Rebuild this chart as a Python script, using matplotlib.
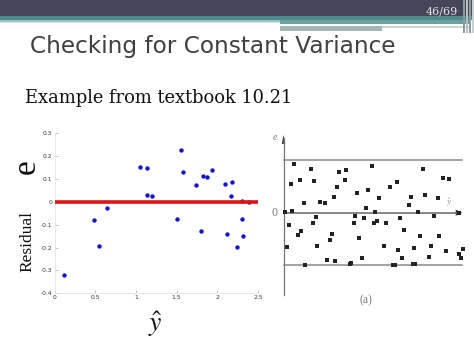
import matplotlib
matplotlib.use("Agg")
import matplotlib.pyplot as plt
from matplotlib.patches import Rectangle, Polygon

# Residuals vs fitted values (textbook example 10.21)
fitted = [0.12, 0.49, 0.55, 0.65, 1.05, 1.14, 1.14, 1.20, 1.50, 1.56, 1.58, 1.74,
          1.80, 1.82, 1.87, 1.93, 2.09, 2.12, 2.18, 2.17, 2.24, 2.30, 2.30, 2.32, 2.39]
residual = [-0.32, -0.08, -0.195, -0.026, 0.153, 0.15, 0.028, 0.024, -0.074, 0.229,
            0.13, 0.074, -0.128, 0.113, 0.11, 0.14, 0.08, -0.14, 0.088, 0.024,
            -0.197, -0.074, 0.003, -0.15, -0.002]
x_ticks = [0, 0.5, 1, 1.5, 2, 2.5]
x_tick_labels = ["0", "0.5", "1", "1.5", "2", "2.5"]
y_ticks = [-0.4, -0.3, -0.2, -0.1, 0, 0.1, 0.2, 0.3]
y_tick_labels = ["-0.4", "-0.3", "-0.2", "-0.1", "0", "0.1", "0.2", "0.3"]

# Idealised pattern (a): residuals scattered evenly inside a horizontal band
band_x = [0.61, 1.52, 4.94, 3.13, 3.52, 0.92, 0.42, 1.73, 3.45, 3.01, 4.13, 4.73,
          2.83, 1.13, 2.03, 2.31, 4.62, 0.08, 0.49, 1.82, 4.02, 4.51, 0.31, 1.64,
          3.93, 5.05, 1.00, 0.81, 2.70, 2.62, 4.23, 0.21, 1.89, 2.42, 2.90, 4.40,
          3.76, 3.71, 1.22, 7.83, 8.95, 9.25, 6.34, 5.95, 5.35, 7.14, 7.93, 8.64,
          7.05, 5.14, 7.55, 8.43, 9.83, 5.25, 5.74, 6.54, 6.73, 7.63, 8.73, 5.65,
          6.41, 7.31, 8.25, 9.12, 10.06, 9.85, 9.93, 6.64, 8.13, 6.15, 6.23, 7.24, 7.38]
band_e = [0.93, 0.83, 0.89, 0.77, 0.82, 0.62, 0.54, 0.60, 0.62, 0.48, 0.38, 0.44,
          0.30, 0.18, 0.20, 0.18, 0.09, 0.01, 0.03, -0.09, -0.07, -0.10, -0.24, -0.19,
          -0.19, -0.20, -0.34, -0.43, -0.41, -0.51, -0.49, -0.65, -0.63, -0.89, -0.92, -0.87,
          -0.95, -0.97, -0.99, 0.83, 0.66, 0.64, 0.58, 0.48, 0.28, 0.29, 0.33, 0.28,
          0.15, 0.01, 0.01, -0.07, -0.01, -0.16, -0.20, -0.10, -0.32, -0.45, -0.45, -0.63,
          -0.70, -0.68, -0.64, -0.72, -0.69, -0.79, -0.86, -0.87, -0.84, -0.99, -0.99, -0.97, -0.97]
band_limit = 1.0
band_xmax = 10.0

W, H = 474, 355
fig = plt.figure(figsize=(W / 100, H / 100), dpi=100)
fig.patch.set_facecolor("white")

# Full-figure overlay in pixel coordinates for the slide decoration and text
deco = fig.add_axes([0, 0, 1, 1])
deco.set_xlim(0, W)
deco.set_ylim(H, 0)
deco.axis("off")

# Header bar
deco.add_patch(Rectangle((0, 0), W, 15.7, color="#45465a", lw=0))
deco.add_patch(Rectangle((0, 15.7), W, 4.3, color="#4b8b8b", lw=0))
deco.add_patch(Rectangle((0, 20), 280, 1.6, color="#9fbebe", lw=0))
deco.add_patch(Rectangle((0, 21.6), 280, 1.6, color="#dde9e9", lw=0))
deco.add_patch(Rectangle((280, 20), 190, 4.2, color="#6d9f9f", lw=0))
deco.add_patch(Rectangle((280, 25.5), 102, 5.5, color="#a3b6b6", lw=0))
deco.add_patch(Rectangle((382, 25.5), 88, 2.5, color="#c9d6d6", lw=0))
for xs, c in [(463, "#8c9a9a"), (466, "#b5c0c0"), (469, "#8c9a9a"), (472, "#c8d0d0")]:
    deco.add_patch(Rectangle((xs, 0), 1.6, 33, color=c, lw=0))

renderer = fig.canvas.get_renderer()


def fitted_text(x, y, s, width, size, **kw):
    t = deco.text(x, y, s, fontsize=size, **kw)
    bb = t.get_window_extent(renderer=renderer)
    t.set_fontsize(size * width / bb.width)
    return t


fitted_text(426, 14, "46/69", 32, 9, family="DejaVu Serif", color="#e4e4e4",
            va="baseline", ha="left")
fitted_text(30, 52.7, "Checking for Constant Variance", 365, 20,
            family="DejaVu Sans", color="#404040", va="baseline", ha="left")
fitted_text(25, 103.3, "Example from textbook 10.21", 270, 14,
            family="DejaVu Serif", color="#111111", va="baseline", ha="left")

deco.text(26, 167, "e", fontsize=24, family="Liberation Serif", rotation=90,
          ha="center", va="center", color="#111111")
deco.text(27.5, 242, "Residual", fontsize=12.5, family="Liberation Serif", rotation=90,
          ha="center", va="center", color="#111111")
plt.rcParams["mathtext.fontset"] = "stix"
deco.text(155, 324, r"$\hat{y}$", fontsize=20, ha="center", va="center", color="#111111")

# Residual plot
ax = fig.add_axes([54.5 / W, (H - 293.3) / H, 203.5 / W, 160 / H])
ax.set_xlim(0, 2.5)
ax.set_ylim(-0.4, 0.3)
ax.patch.set_alpha(0)
for side in ("top", "right"):
    ax.spines[side].set_visible(False)
for side in ("left", "bottom"):
    ax.spines[side].set_color("#e2e2e2")
    ax.spines[side].set_linewidth(0.6)
ax.set_xticks(x_ticks)
ax.set_xticklabels(x_tick_labels)
ax.set_yticks(y_ticks)
ax.set_yticklabels(y_tick_labels)
ax.tick_params(direction="in", length=2, width=0.5, color="#aaaaaa",
               labelsize=4.3, labelcolor="#333333", pad=1.5)
ax.scatter(fitted, residual, s=10, color="#1212c8", zorder=3, linewidths=0)
ax.plot([0, 2.5], [0, 0], color="#dd1414", lw=2.6, zorder=4, solid_capstyle="butt")

# Band pattern panel
px0, py0 = 283.5, 212.7
sx, sy = 17.85, 52.6
left_px, right_px, top_px, bot_px = 262, 474, 128, 312
bx = fig.add_axes([left_px / W, (H - bot_px) / H, (right_px - left_px) / W, (bot_px - top_px) / H])
bx.set_xlim((left_px - px0) / sx, (right_px - px0) / sx)
bx.set_ylim(-(bot_px - py0) / sy, (py0 - top_px) / sy)
bx.axis("off")
bx.patch.set_alpha(0)

axis_top = (py0 - 135) / sy
axis_bot = -(295 - py0) / sy
bx.plot([0, 0], [axis_bot, axis_top - 0.05], color="#777777", lw=0.9)
bx.add_patch(Polygon([[-0.1, axis_top - 0.17], [0.1, axis_top - 0.17], [0, axis_top]],
                     closed=True, color="#444444", lw=0))
bx.plot([0, band_xmax - 0.1], [0, 0], color="#666666", lw=1.1)
bx.add_patch(Polygon([[band_xmax - 0.35, 0.06], [band_xmax - 0.35, -0.06], [band_xmax, 0]],
                     closed=True, color="#333333", lw=0))
for lim in (band_limit, -band_limit):
    bx.plot([0, band_xmax], [lim, lim], color="#8a8a8a", lw=1.1)
bx.scatter(band_x, band_e, s=5, color="#222222", marker="s", linewidths=0, zorder=3)

bx.text(-0.48, (py0 - 137) / sy, "e", fontsize=7, family="Liberation Serif",
        style="italic", color="#777777", ha="center", va="center")
bx.text(-0.53, 0, "0", fontsize=8.5, family="Liberation Serif", color="#777777",
        ha="center", va="center")
bx.text((449 - px0) / sx, (py0 - 203) / sy, r"$\hat{y}$", fontsize=6.5,
        color="#888888", ha="center", va="center")
bx.text((366 - px0) / sx, -(300 - py0) / sy, "(a)", fontsize=8.5, family="Liberation Serif",
        color="#777777", ha="center", va="center")

fig.savefig("out.png", dpi=100)
